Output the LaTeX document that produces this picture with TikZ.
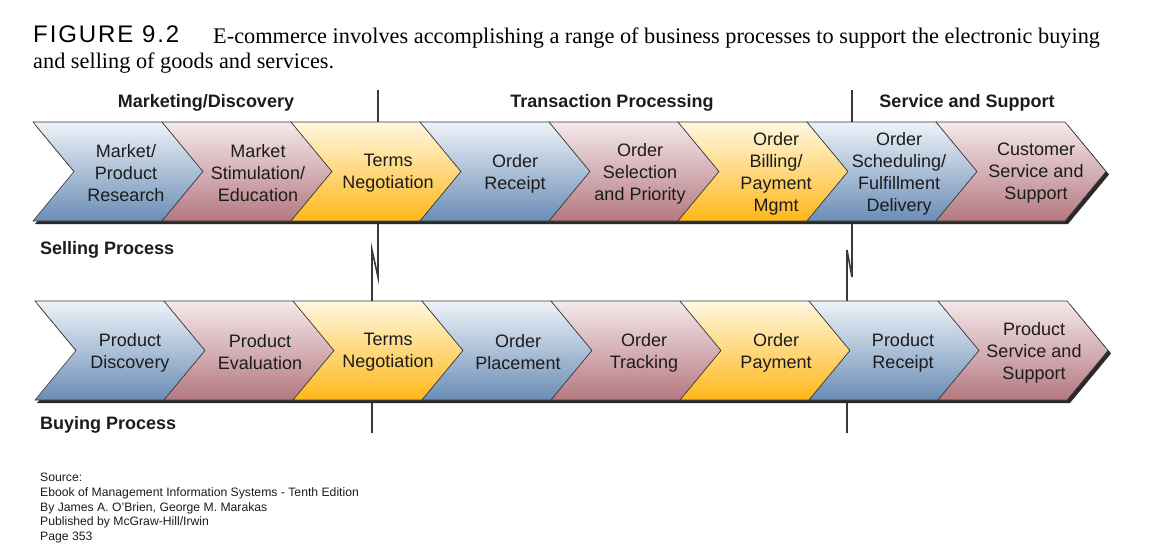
\documentclass[tikz,border=0pt]{standalone}
\usepackage{fontspec}
\setmainfont{Liberation Serif}
\setsansfont{Liberation Sans}
\newfontfamily\figfont[LetterSpace=8]{Liberation Sans}
\definecolor{bluetop}{HTML}{EEF3F9}
\definecolor{bluebot}{HTML}{6A8DB5}
\definecolor{mauvetop}{HTML}{F5E9EB}
\definecolor{mauvebot}{HTML}{B47880}
\definecolor{orangetop}{HTML}{FFF8E2}
\definecolor{orangebot}{HTML}{FFB718}
\definecolor{edgegray}{HTML}{3A3A3A}
\definecolor{shadowgray}{HTML}{2A2A2A}
\definecolor{textgray}{HTML}{1C1C1C}
\begin{document}
\begin{tikzpicture}[x=1pt,y=-1pt,
  chev/.style={draw=edgegray,line width=0.6pt,line join=miter},
  bluechev/.style={chev,top color=bluetop,bottom color=bluebot},
  mauvechev/.style={chev,top color=mauvetop,bottom color=mauvebot},
  orangechev/.style={chev,top color=orangetop,bottom color=orangebot},
  steptext/.style={font=\sffamily\fontsize{18}{22}\selectfont,align=center,text=textgray},
  headtext/.style={font=\sffamily\bfseries\fontsize{18}{22}\selectfont,text=textgray},
  divider/.style={draw=edgegray,line width=1.6pt}]
  \useasboundingbox (0,0) rectangle (1155,555);
  % caption
  \path (33,42) node[anchor=base west,inner sep=0pt] (fig) {\figfont\fontsize{24}{28}\selectfont FIGURE 9.2};
  \path (213,43.5) node[anchor=base west,inner sep=0pt] (cap1) {\fontsize{22.3}{24}\selectfont E-commerce involves accomplishing a range of business processes to support the electronic buying};
  \path (33,68) node[anchor=base west,inner sep=0pt] (cap2) {\fontsize{22.3}{24}\selectfont and selling of goods and services.};
  % headings
  \path (206,103) node[headtext] (hmkt) {Marketing/Discovery};
  \path (612,103) node[headtext] (htrans) {Transaction Processing};
  \path (967,103) node[headtext] (hserv) {Service and Support};
  % dividers
  \draw[divider] (378,90) -- (378,122);
  \draw[divider] (852,90) -- (852,122);
  \draw[divider] (378,221) -- (378,277) -- (372,250) -- (372,301);
  \draw[divider] (852,221) -- (852,277) -- (847,250) -- (847,301);
  \draw[divider] (372,400) -- (372,433);
  \draw[divider] (847,400) -- (847,433);
  % selling row
  \fill[shadowgray] (35,125) -- (1068,125) -- (1109,174.5) -- (1068,224) -- (35,224) -- (76,174.5) -- cycle;
  \draw[bluechev] (33,122) -- ++(129,0) -- ++(41,49.5) -- ++(-41,49.5) -- ++(-129,0) -- ++(41,-49.5) -- cycle;
  \draw[mauvechev] (162,122) -- ++(129,0) -- ++(41,49.5) -- ++(-41,49.5) -- ++(-129,0) -- ++(41,-49.5) -- cycle;
  \draw[orangechev] (291,122) -- ++(129,0) -- ++(41,49.5) -- ++(-41,49.5) -- ++(-129,0) -- ++(41,-49.5) -- cycle;
  \draw[bluechev] (420,122) -- ++(129,0) -- ++(41,49.5) -- ++(-41,49.5) -- ++(-129,0) -- ++(41,-49.5) -- cycle;
  \draw[mauvechev] (549,122) -- ++(129,0) -- ++(41,49.5) -- ++(-41,49.5) -- ++(-129,0) -- ++(41,-49.5) -- cycle;
  \draw[orangechev] (678,122) -- ++(129,0) -- ++(41,49.5) -- ++(-41,49.5) -- ++(-129,0) -- ++(41,-49.5) -- cycle;
  \draw[bluechev] (807,122) -- ++(129,0) -- ++(41,49.5) -- ++(-41,49.5) -- ++(-129,0) -- ++(41,-49.5) -- cycle;
  \draw[mauvechev] (936,122) -- ++(129,0) -- ++(41,49.5) -- ++(-41,49.5) -- ++(-129,0) -- ++(41,-49.5) -- cycle;
  \path (126,173.5) node[steptext] (s1) {Market/\\Product\\Research};
  \path (258,173.5) node[steptext] (s2) {Market\\Stimulation/\\Education};
  \path (388,173.5) node[steptext] (s3) {Terms\\Negotiation};
  \path (515,173.5) node[steptext] (s4) {Order\\Receipt};
  \path (640,173.5) node[steptext] (s5) {Order\\Selection\\and Priority};
  \path (776,173.5) node[steptext] (s6) {Order\\Billing/\\Payment\\Mgmt};
  \path (899,173.5) node[steptext] (s7) {Order\\Scheduling/\\Fulfillment\\Delivery};
  \path (1036,173.5) node[steptext] (s8) {Customer\\Service and\\Support};
  \path (40,250) node[headtext,anchor=west,inner sep=0pt] (sell) {Selling Process};
  % buying row
  \fill[shadowgray] (37,304) -- (1070,304) -- (1111,353.5) -- (1070,403) -- (37,403) -- (78,353.5) -- cycle;
  \draw[bluechev] (35,301) -- ++(129,0) -- ++(41,49.5) -- ++(-41,49.5) -- ++(-129,0) -- ++(41,-49.5) -- cycle;
  \draw[mauvechev] (164,301) -- ++(129,0) -- ++(41,49.5) -- ++(-41,49.5) -- ++(-129,0) -- ++(41,-49.5) -- cycle;
  \draw[orangechev] (293,301) -- ++(129,0) -- ++(41,49.5) -- ++(-41,49.5) -- ++(-129,0) -- ++(41,-49.5) -- cycle;
  \draw[bluechev] (422,301) -- ++(129,0) -- ++(41,49.5) -- ++(-41,49.5) -- ++(-129,0) -- ++(41,-49.5) -- cycle;
  \draw[mauvechev] (551,301) -- ++(129,0) -- ++(41,49.5) -- ++(-41,49.5) -- ++(-129,0) -- ++(41,-49.5) -- cycle;
  \draw[orangechev] (680,301) -- ++(129,0) -- ++(41,49.5) -- ++(-41,49.5) -- ++(-129,0) -- ++(41,-49.5) -- cycle;
  \draw[bluechev] (809,301) -- ++(129,0) -- ++(41,49.5) -- ++(-41,49.5) -- ++(-129,0) -- ++(41,-49.5) -- cycle;
  \draw[mauvechev] (938,301) -- ++(129,0) -- ++(41,49.5) -- ++(-41,49.5) -- ++(-129,0) -- ++(41,-49.5) -- cycle;
  \path (130,352.5) node[steptext] (b1) {Product\\Discovery};
  \path (260,352.5) node[steptext] (b2) {Product\\Evaluation};
  \path (388,352.5) node[steptext] (b3) {Terms\\Negotiation};
  \path (518,352.5) node[steptext] (b4) {Order\\Placement};
  \path (644,352.5) node[steptext] (b5) {Order\\Tracking};
  \path (776,352.5) node[steptext] (b6) {Order\\Payment};
  \path (903,352.5) node[steptext] (b7) {Product\\Receipt};
  \path (1034,352.5) node[steptext] (b8) {Product\\Service and\\Support};
  \path (40,425) node[headtext,anchor=west,inner sep=0pt] (buy) {Buying Process};
  % source
  \path (40,473) node[anchor=north west,inner sep=0pt,align=left,text=textgray,font=\sffamily\fontsize{12.2}{14.7}\selectfont] (src) {Source:\\Ebook of Management Information Systems - Tenth Edition\\By James A. O'Brien, George M. Marakas\\Published by McGraw-Hill/Irwin\\Page 353};
\end{tikzpicture}
\end{document}
